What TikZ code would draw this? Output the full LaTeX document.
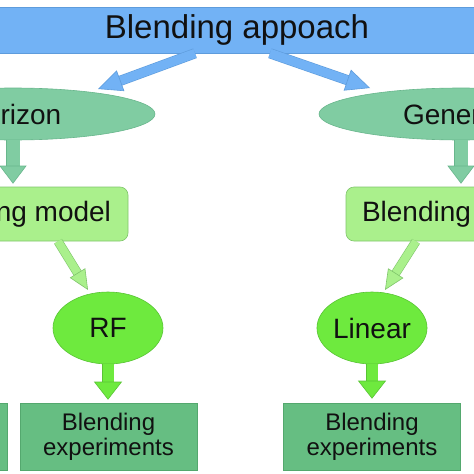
\documentclass[tikz,border=0pt]{standalone}
\usepackage{fontspec}
\setmainfont{Liberation Sans}
\usetikzlibrary{arrows.meta,shapes.geometric,calc}
\definecolor{barblue}{RGB}{114,178,245}
\definecolor{barline}{RGB}{94,156,220}
\definecolor{teal}{RGB}{128,204,162}
\definecolor{tealline}{RGB}{104,182,140}
\definecolor{lgreen}{RGB}{170,240,140}
\definecolor{lgreenline}{RGB}{128,198,108}
\definecolor{bgreen}{RGB}{110,234,62}
\definecolor{bgreenline}{RGB}{88,196,52}
\definecolor{mgreen}{RGB}{102,190,130}
\definecolor{mgreenline}{RGB}{84,168,110}
\definecolor{txt}{RGB}{17,17,17}
\tikzset{
  barrow/.style n args={5}{draw=#4, line width=#1,
    -{Triangle[width=#2,length=#3,line width=0.6pt,fill=#4,color=#5]},
    preaction={draw=#5, line width=#1+1.2pt, -, shorten >=#3-0.6pt}},
  bar/.style={fill=barblue, draw=barline, line width=0.6pt, minimum width=520pt,
    minimum height=46pt, inner sep=0pt, text=txt, font=\fontsize{33}{38}\selectfont},
  horiz/.style={ellipse, fill=teal, draw=tealline, line width=0.6pt, minimum width=284pt,
    minimum height=52pt, inner sep=0pt, text=txt, font=\fontsize{28}{32}\selectfont},
  mbox/.style={rectangle, rounded corners=8pt, fill=lgreen, draw=lgreenline, line width=0.6pt,
    minimum width=206pt, minimum height=54pt, inner sep=0pt, text=txt, font=\fontsize{28}{32}\selectfont},
  meth/.style={ellipse, fill=bgreen, draw=bgreenline, line width=0.6pt, minimum width=110pt,
    minimum height=72pt, inner sep=0pt, text=txt, font=\fontsize{28}{32}\selectfont},
  expbox/.style={rectangle, fill=mgreen, draw=mgreenline, line width=0.6pt, minimum width=177pt,
    minimum height=67pt, inner sep=0pt, align=center, text=txt, font=\fontsize{24}{25}\selectfont},
}
\begin{document}
\begin{tikzpicture}[x=1pt,y=-1pt]
\fill[white] (0,0) rectangle (474,474);
\clip (0,0) rectangle (474,474);
\node[bar] (top) at (237,30) {Blending appoach};
\node[horiz] (hor) at (13,114) {Horizon};
\node[horiz] (gen) at (461,114) {\makebox[116pt][l]{General}};
\node[mbox] (bm1) at (25,214) {\makebox[172pt][r]{Blending model}};
\node[mbox] (bm2) at (449,214) {\makebox[174pt][l]{Blending model}};
\node[meth] (rf) at (108,328) {RF};
\node[meth] (lin) at (372,328) {Linear};
\node[expbox] (e0) at (-81.5,436.5) {};
\node[expbox] (e1) at (108.5,436.5) {Blending\\experiments};
\node[expbox] (e2) at (372,436.5) {Blending\\experiments};
% arrows
\draw[barrow={9pt}{22pt}{24pt}{barblue}{barline}] ($(top.south)+(-42,0)$) -- ($(hor.center)+(85,-25)$);
\draw[barrow={9pt}{22pt}{24pt}{barblue}{barline}] ($(top.south)+(33,0)$) -- ($(gen.center)+(-91,-26)$);
\draw[barrow={13pt}{27pt}{18pt}{teal}{tealline}] (hor.south) -- ($(hor.south |- bm1.north)+(0,-3)$);
\draw[barrow={13pt}{27pt}{18pt}{teal}{tealline}] (gen.south) -- ($(gen.south |- bm2.north)+(0,-3)$);
\draw[barrow={8pt}{18pt}{20pt}{lgreen}{lgreenline}] ($(bm1.south)+(33,0)$) -- ($(rf.center)+(-20,-38)$);
\draw[barrow={8pt}{18pt}{20pt}{lgreen}{lgreenline}] ($(bm2.south)+(-33,0)$) -- ($(lin.center)+(13,-38)$);
\draw[barrow={11pt}{28pt}{18pt}{bgreen}{bgreenline}] (rf.south) -- ($(rf.south |- e1.north)+(0,-3)$);
\draw[barrow={11pt}{28pt}{18pt}{bgreen}{bgreenline}] (lin.south) -- ($(lin.south |- e2.north)+(0,-4)$);
\end{tikzpicture}
\end{document}
